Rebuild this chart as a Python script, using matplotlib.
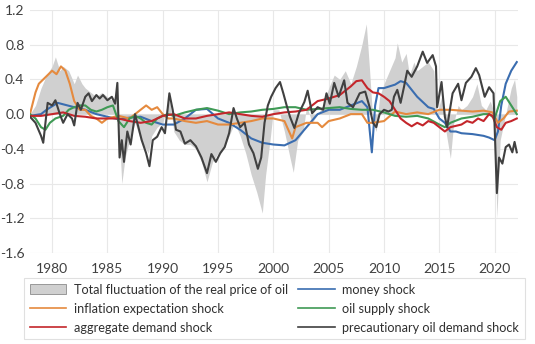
import matplotlib
matplotlib.use("Agg")
import matplotlib.pyplot as plt
from matplotlib.patches import Patch
from matplotlib.lines import Line2D

plt.rcParams['font.family'] = ['Lato', 'DejaVu Sans']

# total fluctuation of the real price of oil (grey area)
total_years = [1978.0, 1978.5, 1979.0, 1979.5, 1980.0, 1980.3, 1980.7, 1981.0, 1981.5,
               1982.0, 1982.3, 1982.7, 1983.0, 1983.5, 1984.0, 1984.5, 1985.0, 1985.5,
               1985.9, 1986.1, 1986.3, 1986.6, 1987.0, 1987.5, 1988.0, 1988.7, 1989.0,
               1989.5, 1990.0, 1990.6, 1991.0, 1991.5, 1992.0, 1992.5, 1993.0, 1993.5,
               1994.0, 1994.5, 1995.0, 1995.5, 1996.0, 1996.5, 1997.0, 1997.5, 1998.0,
               1998.5, 1999.0, 1999.3, 1999.7, 2000.0, 2000.5, 2001.0, 2001.5, 2001.8,
               2002.2, 2002.7, 2003.0, 2003.5, 2004.0, 2004.5, 2005.0, 2005.5, 2006.0,
               2006.5, 2007.0, 2007.5, 2008.0, 2008.4, 2008.7, 2009.0, 2009.3, 2009.6,
               2010.0, 2010.5, 2011.0, 2011.2, 2011.6, 2012.0, 2012.3, 2012.7, 2013.0,
               2013.5, 2014.0, 2014.5, 2014.8, 2015.2, 2015.6, 2016.0, 2016.3, 2016.7,
               2017.0, 2017.5, 2018.0, 2018.4, 2018.8, 2019.2, 2019.6, 2020.0, 2020.2,
               2020.5, 2021.0, 2021.5, 2021.8, 2022.0]
total_vals = [0.0, 0.1, 0.3, 0.45, 0.55, 0.66, 0.5, 0.55, 0.5,
              0.35, 0.45, 0.35, 0.3, 0.25, 0.2, 0.25, 0.2, 0.15,
              0.3, -0.3, -0.8, -0.5, -0.3, -0.1, -0.3, -0.45, -0.25,
              -0.15, -0.1, 0.2, -0.2, -0.3, -0.35, -0.35, -0.4, -0.55,
              -0.78, -0.55, -0.45, -0.4, -0.25, -0.1, -0.25, -0.45, -0.7,
              -0.9, -1.14, -0.7, -0.3, 0.05, 0.05, -0.2, -0.5, -0.67,
              -0.3, -0.2, 0.1, -0.1, 0.0, 0.1, 0.3, 0.45, 0.4,
              0.5, 0.35, 0.55, 0.8, 1.04, 0.5, -0.1, -0.2, 0.2,
              0.35, 0.5, 0.65, 0.82, 0.6, 0.7, 0.45, 0.6, 0.5,
              0.55, 0.6, 0.5, 0.0, 0.2, -0.2, -0.51, -0.1, 0.1,
              0.05, 0.1, 0.2, 0.35, 0.1, 0.05, 0.15, 0.0, -1.2,
              -0.3, 0.0, 0.3, 0.4, 0.2]

money_years = [1978, 1979, 1979.5, 1980.5, 1982, 1983, 1984, 1985, 1986, 1987, 1988,
               1989, 1990, 1991, 1992, 1993, 1994, 1995, 1996, 1997, 1998, 1999,
               2000, 2001, 2002, 2003, 2004, 2005, 2006, 2007, 2008, 2008.5, 2008.9,
               2009.2, 2009.5, 2010, 2010.5, 2011, 2011.5, 2012, 2012.5, 2013, 2013.5,
               2014, 2014.5, 2015, 2015.5, 2016, 2016.5, 2017, 2018, 2019, 2019.5,
               2020, 2020.3, 2020.6, 2021, 2021.5, 2022]
money_vals = [-0.02, 0.0, 0.05, 0.13, 0.08, 0.05, 0.0, -0.03, -0.06, -0.04, -0.03,
              -0.08, -0.12, -0.12, -0.05, 0.05, 0.06, -0.05, -0.1, -0.18, -0.28, -0.33,
              -0.35, -0.36, -0.3, -0.15, 0.0, 0.05, 0.05, 0.1, 0.15, 0.08, -0.44,
              0.1, 0.3, 0.3, 0.32, 0.34, 0.38, 0.36, 0.28, 0.2, 0.14,
              0.08, 0.06, -0.05, -0.1, -0.2, -0.2, -0.22, -0.23, -0.25, -0.27,
              -0.3, -0.2, 0.1, 0.35, 0.5, 0.6]

infl_years = [1978, 1978.5, 1978.8, 1979.2, 1979.6, 1980.0, 1980.4, 1980.8, 1981.2,
              1981.6, 1982.0, 1982.5, 1983.0, 1983.5, 1984.0, 1984.5, 1985, 1986,
              1987, 1988, 1988.5, 1989, 1989.5, 1990, 1990.5, 1991, 1992, 1993, 1994,
              1995, 1996, 1997, 1998, 1999, 2000, 2001, 2001.7, 2002, 2003, 2004,
              2004.4, 2005, 2006, 2007, 2008, 2008.5, 2009, 2010, 2011, 2012, 2013,
              2014, 2015, 2016, 2017, 2018, 2019, 2019.8, 2020.3, 2020.8, 2021.3, 2022]
infl_vals = [0.0, 0.25, 0.35, 0.4, 0.45, 0.5, 0.46, 0.55, 0.5,
             0.35, 0.15, 0.05, 0.05, -0.02, -0.05, -0.1, -0.05, -0.02,
             -0.05, 0.05, 0.1, 0.05, 0.08, 0.0, -0.05, -0.05, -0.08, -0.1, -0.08,
             -0.12, -0.12, -0.1, -0.08, -0.05, -0.05, -0.08, -0.28, -0.15, -0.1, -0.1,
             -0.15, -0.08, -0.05, 0.0, 0.0, -0.1, -0.1, -0.08, 0.03, 0.0, 0.02,
             0.0, 0.05, 0.05, 0.04, 0.03, 0.04, 0.02, -0.1, -0.05, 0.03, 0.04]

supply_years = [1978, 1978.5, 1979, 1979.4, 1979.8, 1980.3, 1981, 1981.5, 1982, 1982.5,
                1983, 1983.5, 1984, 1984.5, 1985, 1985.5, 1986, 1986.5, 1987, 1987.5,
                1988, 1988.5, 1989, 1989.5, 1990, 1990.5, 1991, 1992, 1993, 1994,
                1995, 1996, 1997, 1998, 1999, 2000, 2001, 2002, 2003, 2004, 2005,
                2006, 2007, 2008, 2009, 2010, 2011, 2012, 2013, 2014, 2015, 2015.5,
                2016, 2017, 2018, 2019, 2019.5, 2020, 2020.5, 2021, 2021.5, 2022]
supply_vals = [0.0, -0.05, -0.15, -0.18, -0.1, -0.05, -0.02, 0.05, 0.08, 0.1,
               0.1, 0.05, 0.03, 0.05, 0.08, 0.1, -0.08, -0.15, -0.05, -0.02,
               -0.05, -0.1, -0.12, -0.05, -0.02, 0.0, -0.02, 0.02, 0.05, 0.07,
               0.04, 0.0, 0.02, 0.03, 0.05, 0.06, 0.08, 0.08, 0.05, 0.06, 0.07,
               0.08, 0.06, 0.05, 0.05, 0.02, -0.02, -0.03, -0.02, -0.05, -0.12, -0.15,
               -0.1, -0.05, -0.03, 0.0, 0.0, -0.05, 0.15, 0.2, 0.1, 0.0]

demand_years = [1978, 1979, 1980, 1981, 1982, 1983, 1984, 1985, 1986, 1987, 1988,
                1989, 1990, 1991, 1992, 1993, 1994, 1995, 1996, 1997, 1998, 1999,
                2000, 2001, 2002, 2003, 2004, 2005, 2006, 2007, 2007.5, 2008, 2008.5,
                2009, 2009.5, 2010, 2010.5, 2011, 2011.5, 2012, 2012.5, 2013, 2013.5,
                2014, 2014.5, 2015, 2015.5, 2016, 2017, 2017.5, 2018, 2018.5, 2019,
                2019.5, 2019.8, 2020.2, 2020.6, 2021, 2021.5, 2022]
demand_vals = [-0.02, -0.02, 0.0, 0.02, -0.02, -0.03, -0.05, -0.05, -0.05, -0.08, -0.1,
               -0.08, -0.02, 0.0, -0.05, -0.05, -0.02, 0.0, 0.02, 0.0, -0.02, -0.03,
               0.0, 0.02, 0.03, 0.05, 0.15, 0.18, 0.22, 0.32, 0.38, 0.39, 0.3,
               0.25, 0.24, 0.2, 0.15, 0.05, -0.05, -0.1, -0.14, -0.1, -0.13,
               -0.08, -0.1, -0.15, -0.2, -0.15, -0.12, -0.08, -0.1, -0.05, -0.08,
               0.0, -0.02, -0.15, -0.18, -0.1, -0.08, -0.05]

precaution_years = [1978.0, 1978.5, 1979.0, 1979.2, 1979.4, 1979.6, 1980.0, 1980.3, 1980.7,
                    1981.0, 1981.4, 1981.8, 1982.0, 1982.3, 1982.6, 1983.0, 1983.3, 1983.6,
                    1984.0, 1984.3, 1984.6, 1985.0, 1985.4, 1985.7, 1985.9, 1986.1, 1986.3,
                    1986.5, 1986.8, 1987.1, 1987.5, 1987.8, 1988.1, 1988.5, 1988.8, 1989.1,
                    1989.5, 1989.9, 1990.2, 1990.6, 1990.9, 1991.2, 1991.6, 1992.0, 1992.5,
                    1993.0, 1993.5, 1994.0, 1994.4, 1994.8, 1995.2, 1995.6, 1996.0, 1996.4,
                    1996.7, 1997.0, 1997.4, 1997.8, 1998.2, 1998.6, 1998.9, 1999.2, 1999.5,
                    1999.8, 2000.2, 2000.6, 2000.9, 2001.2, 2001.5, 2001.9, 2002.3, 2002.8,
                    2003.1, 2003.5, 2004.0, 2004.5, 2004.8, 2005.1, 2005.5, 2005.9, 2006.4,
                    2006.7, 2007.2, 2007.8, 2008.3, 2008.7, 2009.0, 2009.3, 2009.6, 2010.0,
                    2010.4, 2010.7, 2010.9, 2011.2, 2011.5, 2011.8, 2012.1, 2012.5, 2013.0,
                    2013.5, 2013.9, 2014.4, 2014.7, 2014.8, 2015.2, 2015.5, 2015.7, 2016.2,
                    2016.7, 2017.0, 2017.4, 2017.9, 2018.3, 2018.6, 2019.1, 2019.5, 2019.9,
                    2020.2, 2020.4, 2020.7, 2021.0, 2021.3, 2021.6, 2021.8, 2022.0]
precaution_vals = [-0.03, -0.1, -0.25, -0.33, -0.1, 0.13, 0.1, 0.16, 0.0,
                   -0.1, 0.0, -0.05, -0.13, 0.13, 0.05, 0.2, 0.24, 0.15,
                   0.22, 0.18, 0.22, 0.16, 0.2, 0.12, 0.36, -0.5, -0.3,
                   -0.55, -0.2, -0.35, 0.0, -0.15, -0.3, -0.45, -0.6, -0.3,
                   -0.26, -0.15, -0.22, 0.24, 0.05, -0.18, -0.2, -0.34, -0.3,
                   -0.37, -0.5, -0.68, -0.46, -0.55, -0.45, -0.38, -0.22, 0.07,
                   -0.05, -0.15, -0.1, -0.35, -0.45, -0.63, -0.5, -0.1, 0.1,
                   0.2, 0.3, 0.37, 0.24, 0.1, -0.03, -0.16, 0.01, 0.14,
                   0.27, 0.01, 0.08, 0.05, 0.24, 0.12, 0.36, 0.2, 0.39,
                   0.13, 0.08, 0.24, 0.26, 0.08, -0.1, -0.15, 0.0, 0.05,
                   0.03, 0.05, 0.2, 0.28, 0.13, 0.31, 0.5, 0.43, 0.55,
                   0.72, 0.59, 0.68, 0.55, 0.08, 0.37, -0.03, -0.15, 0.24,
                   0.35, 0.16, 0.36, 0.43, 0.53, 0.45, 0.2, 0.31, 0.24,
                   -0.91, -0.5, -0.57, -0.38, -0.35, -0.44, -0.32, -0.44]

year_ticks = [1980, 1985, 1990, 1995, 2000, 2005, 2010, 2015, 2020]
value_ticks = [-1.6, -1.2, -0.8, -0.4, 0.0, 0.4, 0.8, 1.2]

c_total = '#d0d0d0'
c_money = '#3a6db0'
c_infl = '#e58a3e'
c_supply = '#3f9a55'
c_demand = '#c4262b'
c_prec = '#404040'

fig = plt.figure(figsize=(5.35, 3.44), dpi=100)
ax = fig.add_axes([0.056, 0.2645, 0.912, 0.7065])

ax.fill_between(total_years, 0, total_vals, color=c_total, linewidth=0, zorder=1)
ax.plot(money_years, money_vals, color=c_money, lw=1.5, zorder=3)
ax.plot(infl_years, infl_vals, color=c_infl, lw=1.5, zorder=3)
ax.plot(supply_years, supply_vals, color=c_supply, lw=1.5, zorder=3)
ax.plot(demand_years, demand_vals, color=c_demand, lw=1.5, zorder=3)
ax.plot(precaution_years, precaution_vals, color=c_prec, lw=1.5, zorder=4)

ax.set_xlim(1978.0, 2022.1)
ax.set_ylim(-1.6, 1.2)
ax.set_xticks(year_ticks)
ax.set_xticklabels([str(y) for y in year_ticks])
ax.set_yticks(value_ticks)
ax.set_yticklabels(['{:.1f}'.format(v) for v in value_ticks])
ax.tick_params(length=0, labelsize=10, colors='#404040')
ax.tick_params(axis='x', pad=7)
ax.tick_params(axis='y', pad=4)
ax.grid(True, color='#e8e8e8', linewidth=0.8, zorder=0)
ax.set_axisbelow(True)
for s in ax.spines.values():
    s.set_visible(False)

handles = [
    Patch(facecolor=c_total, edgecolor='#8c8c8c', linewidth=0.6),
    Line2D([], [], color=c_infl, lw=1.2),
    Line2D([], [], color=c_demand, lw=1.2),
    Line2D([], [], color=c_money, lw=1.2),
    Line2D([], [], color=c_supply, lw=1.2),
    Line2D([], [], color=c_prec, lw=1.2),
]
labels = [
    'Total fluctuation of the real price of oil',
    'inflation expectation shock',
    'aggregate demand shock',
    'money shock',
    'oil supply shock',
    'precautionary oil demand shock',
]
leg = fig.legend(handles, labels, ncol=2, loc='upper left',
                 bbox_to_anchor=(0.045, 0.192), borderaxespad=0, fontsize=9.1,
                 frameon=True, fancybox=False, handlelength=2.9,
                 handleheight=0.8, handletextpad=0.6, columnspacing=0.8,
                 labelspacing=0.55, borderpad=0.45, labelcolor='#303030')
leg.get_frame().set_edgecolor('#d9d9d9')
leg.get_frame().set_linewidth(0.8)

fig.savefig('out.png', dpi=100)
